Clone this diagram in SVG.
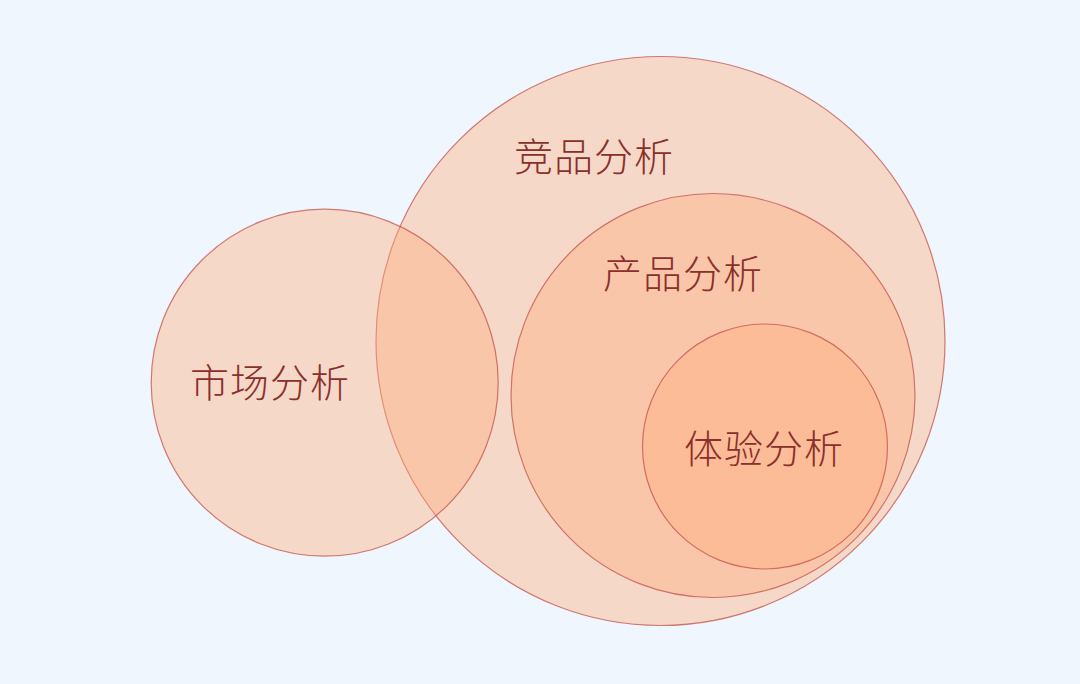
<svg xmlns="http://www.w3.org/2000/svg" width="1080" height="684" viewBox="0 0 1080 684">
<style>
.c{fill:#FFAE80;fill-opacity:0.42;stroke:#C4524A;stroke-opacity:0.75;stroke-width:1.2}
.t{font-family:"Noto Sans CJK SC","Noto Sans",sans-serif;font-size:39px;font-weight:300;fill:#8A2F2B;text-anchor:middle;letter-spacing:1px}
</style>
<rect width="1080" height="684" fill="#F0F6FE"/>
<g id="competitive">
<circle class="c" cx="660.5" cy="341" r="284.5"/>
<text class="t" x="594" y="171">竞品分析</text>
</g>
<g id="market">
<circle class="c" cx="324.7" cy="382.7" r="173.5"/>
<text class="t" x="270" y="397">市场分析</text>
</g>
<g id="product">
<circle class="c" cx="713" cy="395.5" r="202"/>
<text class="t" x="683" y="288">产品分析</text>
</g>
<g id="experience">
<circle class="c" cx="765" cy="446.5" r="122.5"/>
<text class="t" x="764" y="463">体验分析</text>
</g>
<g id="connectors"></g>
</svg>
